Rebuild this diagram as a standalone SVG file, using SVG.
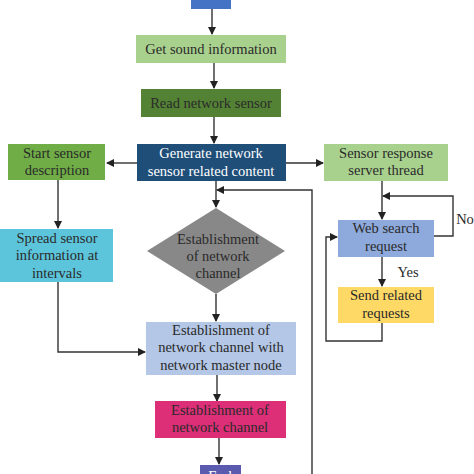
<svg xmlns="http://www.w3.org/2000/svg" width="474" height="474" viewBox="0 0 474 474">
<style>
text{font-family:"Liberation Serif","Times New Roman",serif;font-size:14.5px;fill:#2a2a2a;text-anchor:middle}
.w{fill:#ffffff}
.c{fill:none;stroke:#333;stroke-width:1.4}
</style>
<defs>
<marker id="ah" markerWidth="8" markerHeight="8" refX="7" refY="4" orient="auto" markerUnits="userSpaceOnUse">
<path d="M0,0 L8,4 L0,8 Z" fill="#222"/>
</marker>
</defs>
<rect width="474" height="474" fill="#ffffff"/>
<g id="connectors">
<path class="c" d="M212,9 V34" marker-end="url(#ah)"/>
<path class="c" d="M214,63 V88" marker-end="url(#ah)"/>
<path class="c" d="M214,117 V143" marker-end="url(#ah)"/>
<path class="c" d="M137,163 H107" marker-end="url(#ah)"/>
<path class="c" d="M286,163 H323" marker-end="url(#ah)"/>
<path class="c" d="M58,180 V228" marker-end="url(#ah)"/>
<path class="c" d="M58,282 V352 H145" marker-end="url(#ah)"/>
<path class="c" d="M216,181 V207" marker-end="url(#ah)"/>
<path class="c" d="M312,474 V190 H217" marker-end="url(#ah)"/>
<path class="c" d="M216,294 V321" marker-end="url(#ah)"/>
<path class="c" d="M217,375 V401" marker-end="url(#ah)"/>
<path class="c" d="M219,438 V464" marker-end="url(#ah)"/>
<path class="c" d="M382,181 V219" marker-end="url(#ah)"/>
<path class="c" d="M434,236 H453 V196 H383" marker-end="url(#ah)"/>
<path class="c" d="M382,257 V286" marker-end="url(#ah)"/>
<path class="c" d="M382,323 V341 H326 V237 H337" marker-end="url(#ah)"/>
<text x="465" y="224">No</text>
<text x="408" y="277">Yes</text>
</g>
<g id="start"><rect x="191" y="-2" width="40" height="11" fill="#4472C4"/></g>
<g id="get-sound"><rect x="136" y="35" width="150" height="28" fill="#A9D18E"/><text x="211" y="54">Get sound information</text></g>
<g id="read-sensor"><rect x="141" y="89" width="140" height="28" fill="#548235"/><text x="211" y="108">Read network sensor</text></g>
<g id="generate"><rect x="137" y="144" width="149" height="37" fill="#1F4E79"/><text class="w" x="211" y="158">Generate network</text><text class="w" x="211" y="176">sensor related content</text></g>
<g id="start-desc"><rect x="8" y="144" width="97" height="36" fill="#70AD47"/><text x="57" y="158">Start sensor</text><text x="57" y="175">description</text></g>
<g id="server-thread"><rect x="324" y="144" width="124" height="37" fill="#A9D18E"/><text x="386" y="158">Sensor response</text><text x="386" y="175">server thread</text></g>
<g id="spread"><rect x="0" y="229" width="113" height="53" fill="#5DC5DB"/><text x="57" y="243">Spread sensor</text><text x="57" y="260">information at</text><text x="57" y="278">intervals</text></g>
<g id="diamond"><polygon points="216,208 285,251 216,294 147,251" fill="#888888"/><text x="218" y="244">Establishment</text><text x="218" y="261">of network</text><text x="218" y="278">channel</text></g>
<g id="master-node"><rect x="146" y="322" width="150" height="53" fill="#B4C7E7"/><text x="221" y="335">Establishment of</text><text x="221" y="352">network channel with</text><text x="221" y="370">network master node</text></g>
<g id="channel"><rect x="155" y="401" width="131" height="37" fill="#DC2F78"/><text x="220" y="415">Establishment of</text><text x="220" y="432">network channel</text></g>
<g id="end"><rect x="200" y="465" width="41" height="12" fill="#5A5AAE"/><text class="w" x="220" y="481">End</text></g>
<g id="web-search"><rect x="338" y="220" width="96" height="37" fill="#8EA9DB"/><text x="386" y="233">Web search</text><text x="386" y="251">request</text></g>
<g id="send"><rect x="338" y="287" width="96" height="36" fill="#FFD966"/><text x="386" y="300">Send related</text><text x="386" y="318">requests</text></g>
</svg>
